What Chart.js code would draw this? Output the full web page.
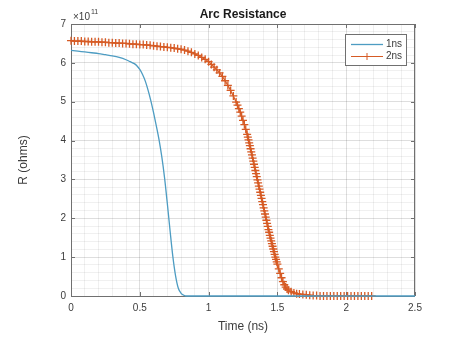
<!DOCTYPE html>
<html>
<head>
<meta charset="utf-8">
<title>Arc Resistance</title>
<script src="https://cdn.jsdelivr.net/npm/chart.js@4.4.0/dist/chart.umd.min.js"></script>
<style>
  html, body { margin: 0; padding: 0; background: #fff; }
  canvas { display: block; }
</style>
</head>
<body>
<canvas id="arcChart" width="474" height="345"></canvas>
<script>
// resistance values are in units of 1e11 ohms (axis exponent shown at the top)
const time1ns = [0, 0.05, 0.10, 0.15, 0.20, 0.25, 0.30, 0.35, 0.40, 0.43, 0.46, 0.48, 0.50, 0.52, 0.54,
    0.56, 0.58, 0.60, 0.62, 0.64, 0.66, 0.68, 0.70, 0.72, 0.74, 0.76, 0.78, 0.80, 0.82, 0.84,
    1.0, 1.5, 2.0, 2.5];
const res1ns = [6.32, 6.30, 6.28, 6.26, 6.24, 6.21, 6.18, 6.14, 6.08, 6.03, 5.98, 5.92, 5.83, 5.70, 5.53,
    5.30, 5.03, 4.72, 4.38, 4.02, 3.58, 3.04, 2.38, 1.68, 1.02, 0.52, 0.20, 0.07, 0.02, 0,
    0, 0, 0, 0];

const time2ns = [0.000, 0.025, 0.050, 0.075, 0.100, 0.125, 0.150, 0.175, 0.200, 0.225, 0.250,
    0.275, 0.300, 0.325, 0.350, 0.375, 0.400, 0.425, 0.450, 0.475, 0.500, 0.525, 0.550, 0.575,
    0.600, 0.625, 0.650, 0.675, 0.700, 0.725, 0.750, 0.775, 0.800, 0.825, 0.850, 0.875, 0.900,
    0.925, 0.950, 0.975, 1.000,
    1.02, 1.04, 1.06, 1.08, 1.10, 1.12, 1.14, 1.16, 1.18, 1.20, 1.21, 1.22, 1.23, 1.24, 1.25,
    1.26, 1.27,
    1.280, 1.285, 1.290, 1.295, 1.300, 1.305, 1.310, 1.315, 1.320, 1.325, 1.330, 1.335, 1.340,
    1.345, 1.350, 1.355, 1.360, 1.365, 1.370, 1.375, 1.380, 1.385, 1.390, 1.395, 1.400, 1.405,
    1.410, 1.415, 1.420, 1.425, 1.430, 1.435, 1.440, 1.445, 1.450, 1.455, 1.460, 1.465, 1.470,
    1.475, 1.480, 1.485, 1.490, 1.495, 1.500,
    1.51, 1.52, 1.53, 1.54, 1.55, 1.56, 1.57, 1.58, 1.60, 1.62, 1.64,
    1.660, 1.685, 1.710, 1.735, 1.760, 1.785, 1.810, 1.835, 1.860, 1.885, 1.910, 1.935, 1.960,
    1.985, 2.010, 2.035, 2.060, 2.085, 2.110, 2.135, 2.160, 2.185];
const res2ns = [6.57, 6.56, 6.56, 6.56, 6.55, 6.55, 6.54, 6.54, 6.54, 6.53, 6.53,
    6.52, 6.52, 6.51, 6.51, 6.50, 6.50, 6.49, 6.48, 6.48, 6.47, 6.47, 6.46, 6.45,
    6.44, 6.43, 6.42, 6.41, 6.40, 6.39, 6.38, 6.36, 6.35, 6.33, 6.30, 6.27, 6.23,
    6.19, 6.14, 6.09, 6.03,
    5.96, 5.89, 5.82, 5.74, 5.65, 5.54, 5.42, 5.29, 5.15, 4.99, 4.91, 4.82, 4.73, 4.63, 4.52,
    4.41, 4.29,
    4.16, 4.09, 4.02, 3.94, 3.87, 3.79, 3.71, 3.63, 3.55, 3.47, 3.39, 3.31, 3.23,
    3.15, 3.07, 2.99, 2.91, 2.83, 2.75, 2.67, 2.59, 2.51, 2.43, 2.35, 2.27, 2.19,
    2.11, 2.03, 1.95, 1.87, 1.79, 1.71, 1.64, 1.56, 1.49, 1.42, 1.35, 1.28, 1.21,
    1.14, 1.07, 1.00, 0.94, 0.88, 0.82,
    0.70, 0.58, 0.47, 0.37, 0.29, 0.23, 0.18, 0.15, 0.11, 0.08, 0.06,
    0.05, 0.04, 0.03, 0.02, 0.01, 0.01, 0, 0, 0, 0, 0, 0, 0,
    0, 0, 0, 0, 0, 0, 0, 0, 0];

const seriesLabels = ['1ns', '2ns'];
const xTicks = [0, 0.5, 1, 1.5, 2, 2.5];
const yTicks = [0, 1, 2, 3, 4, 5, 6, 7];

const BLUE = '#4d9cc2';
const ORANGE = '#d65b25';
const AXIS = '#707070';
const TEXT = '#3c3c3c';
const FONT = "'Liberation Sans', Arial, sans-serif";

const toPoints = (xs, ys) => xs.map((x, i) => ({ x: x, y: ys[i] }));
const isMajorX = v => xTicks.some(t => Math.abs(t - v) < 1e-6);
const isMajorY = v => yTicks.some(t => Math.abs(t - v) < 1e-6);

// box, inside tick marks, legend, title and exponent label
const matlabAxes = {
    id: 'matlabAxes',
    beforeDatasetsDraw(chart) {
        const { ctx, chartArea: a } = chart;
        ctx.save();
        ctx.strokeStyle = AXIS;
        ctx.lineWidth = 1;
        ctx.strokeRect(a.left + 0.5, a.top + 0.5, a.right - a.left - 1, a.bottom - a.top);
        ctx.beginPath();
        const xs = chart.scales.x, ys = chart.scales.y;
        xTicks.forEach(t => {
            const px = Math.round(xs.getPixelForValue(t)) + 0.5;
            ctx.moveTo(px, a.bottom); ctx.lineTo(px, a.bottom - 4);
            ctx.moveTo(px, a.top); ctx.lineTo(px, a.top + 4);
        });
        yTicks.forEach(t => {
            const py = Math.round(ys.getPixelForValue(t)) + 0.5;
            ctx.moveTo(a.left, py); ctx.lineTo(a.left + 4, py);
            ctx.moveTo(a.right, py); ctx.lineTo(a.right - 4, py);
        });
        ctx.stroke();
        ctx.restore();
    },
    afterDraw(chart) {
        const { ctx, chartArea: a } = chart;
        ctx.save();

        // title
        ctx.fillStyle = '#1a1a1a';
        ctx.font = 'bold 12px ' + FONT;
        ctx.textAlign = 'center';
        ctx.textBaseline = 'middle';
        ctx.fillText('Arc Resistance', (a.left + a.right) / 2, 15);

        // exponent
        ctx.fillStyle = TEXT;
        ctx.textAlign = 'left';
        ctx.font = '10px ' + FONT;
        ctx.fillText('\u00d710', a.left + 2, 17);
        const w = ctx.measureText('\u00d710').width;
        ctx.font = '7px ' + FONT;
        ctx.fillText('11', a.left + 2 + w + 1, 12);

        // legend
        const bx = 345, by = 34, bw = 61, bh = 31;
        ctx.fillStyle = '#fff';
        ctx.fillRect(bx, by, bw, bh);
        ctx.strokeStyle = AXIS;
        ctx.lineWidth = 1;
        ctx.strokeRect(bx + 0.5, by + 0.5, bw, bh);
        const rows = [{ y: by + 10.5, color: BLUE, lw: 1.3, marker: false },
                      { y: by + 22.5, color: ORANGE, lw: 1, marker: true }];
        rows.forEach((r, i) => {
            ctx.strokeStyle = r.color;
            ctx.lineWidth = r.lw;
            ctx.beginPath();
            ctx.moveTo(bx + 6, r.y); ctx.lineTo(bx + 38, r.y);
            if (r.marker) {
                const cx = bx + 22;
                ctx.moveTo(cx - 3.5, r.y); ctx.lineTo(cx + 3.5, r.y);
                ctx.moveTo(cx, r.y - 3.5); ctx.lineTo(cx, r.y + 3.5);
            }
            ctx.stroke();
            ctx.fillStyle = TEXT;
            ctx.font = '10px ' + FONT;
            ctx.textBaseline = 'middle';
            ctx.fillText(seriesLabels[i], bx + 41, r.y);
        });
        ctx.restore();
    }
};

new Chart(document.getElementById('arcChart'), {
    type: 'scatter',
    data: {
        datasets: [
            {
                label: seriesLabels[0],
                data: toPoints(time1ns, res1ns),
                showLine: true,
                borderColor: BLUE,
                borderWidth: 1.3,
                pointRadius: 0,
                cubicInterpolationMode: 'monotone',
                clip: false
            },
            {
                label: seriesLabels[1],
                data: toPoints(time2ns, res2ns),
                showLine: true,
                borderColor: ORANGE,
                borderWidth: 1.2,
                pointStyle: 'cross',
                pointRadius: 4,
                pointBorderWidth: 1.3,
                pointBorderColor: ORANGE,
                pointBackgroundColor: ORANGE,
                clip: false
            }
        ]
    },
    options: {
        responsive: false,
        animation: false,
        events: [],
        layout: { padding: { top: 24, right: 59, left: 0, bottom: 0 } },
        plugins: {
            legend: { display: false },
            tooltip: { enabled: false }
        },
        scales: {
            x: {
                type: 'linear',
                min: 0,
                max: 2.5,
                border: { display: false },
                grid: {
                    drawTicks: false,
                    color: c => isMajorX(c.tick.value) ? 'rgba(0,0,0,0.13)' : 'rgba(0,0,0,0.06)'
                },
                ticks: {
                    stepSize: 0.1,
                    maxTicksLimit: 100,
                    autoSkip: false,
                    maxRotation: 0,
                    padding: 6,
                    color: TEXT,
                    font: { family: FONT, size: 10 },
                    callback: v => isMajorX(v) ? String(Math.round(v * 10) / 10) : ''
                },
                title: {
                    display: true,
                    text: 'Time (ns)',
                    color: TEXT,
                    font: { family: FONT, size: 12 },
                    padding: { top: 0, bottom: 11 }
                },
                afterFit(scale) { scale.height = 49; }
            },
            y: {
                type: 'linear',
                min: 0,
                max: 7,
                border: { display: false },
                grid: {
                    drawTicks: false,
                    color: c => isMajorY(c.tick.value) ? 'rgba(0,0,0,0.13)' : 'rgba(0,0,0,0.06)'
                },
                ticks: {
                    stepSize: 0.2,
                    maxTicksLimit: 100,
                    autoSkip: false,
                    padding: 5,
                    color: TEXT,
                    font: { family: FONT, size: 10 },
                    callback: v => isMajorY(v) ? String(Math.round(v)) : ''
                },
                title: {
                    display: true,
                    text: 'R (ohms)',
                    color: TEXT,
                    font: { family: FONT, size: 12 },
                    padding: { top: 16, bottom: 0 }
                },
                afterFit(scale) { scale.width = 71; }
            }
        }
    },
    plugins: [matlabAxes]
});
</script>
</body>
</html>
